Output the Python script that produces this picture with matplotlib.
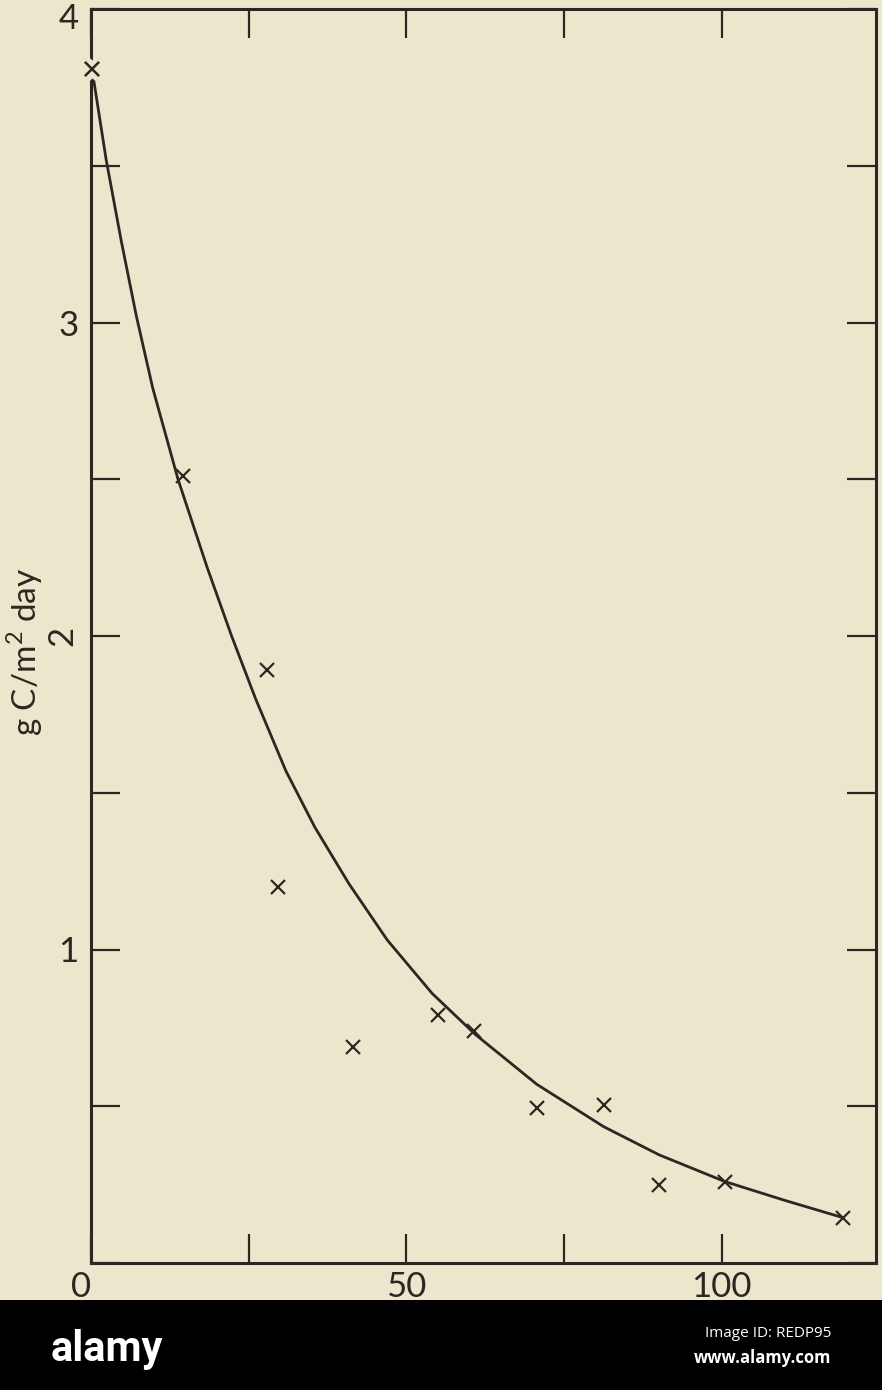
import matplotlib
matplotlib.use("Agg")
import matplotlib.pyplot as plt
import matplotlib.patheffects as pe

# values
depth_obs = [0.1, 14.6, 27.9, 29.7, 41.5, 55.0, 60.8, 70.7, 81.3, 90.1, 100.5, 119.2]
prod_obs = [3.81, 2.51, 1.89, 1.20, 0.69, 0.79, 0.74, 0.495, 0.505, 0.25, 0.258, 0.145]

# hand-drawn fitted curve, traced point by point
depth_curve = [0.3, 2.4, 4.8, 7.2, 9.8, 13.8, 18.4, 22.3, 26.1, 30.9, 35.5,
               40.9, 47.0, 54.1, 60.9, 70.7, 81.3, 90.1, 100.5, 110.0, 119.2]
prod_curve = [3.79, 3.52, 3.26, 3.02, 2.79, 2.50, 2.22, 2.00, 1.80, 1.57, 1.39,
              1.21, 1.03, 0.86, 0.73, 0.57, 0.435, 0.345, 0.26, 0.20, 0.145]

xticks = [0, 25, 50, 75, 100]
xtick_labels = ["0", "", "50", "", "100"]
yticks = [0, 0.5, 1, 1.5, 2, 2.5, 3, 3.5, 4]
ytick_labels = ["", "", "1", "", "2", "", "3", "", ""]
ylabel = "g C/m$^2$ day"

paper = "#ece6cd"
ink = "#2b2822"

plt.rcParams["font.family"] = ["Lato", "DejaVu Sans"]
plt.rcParams["mathtext.fontset"] = "custom"
plt.rcParams["mathtext.rm"] = "Lato"

fig = plt.figure(figsize=(8.82, 13.90), dpi=100, facecolor=paper)
ax = fig.add_axes([91 / 882, 127 / 1390, 785 / 882, 1254 / 1390])
ax.set_facecolor(paper)

ax.plot(depth_curve, prod_curve, color=ink, lw=2.0, solid_capstyle="round",
        solid_joinstyle="round", zorder=3)
ax.plot(depth_obs[1:], prod_obs[1:], linestyle="none", marker="x", ms=10, mew=1.6,
        color=ink, zorder=4)
# first cross sits on the axis, which is broken around it
ax.plot(depth_obs[:1], prod_obs[:1], linestyle="none", marker="x", ms=10, mew=1.6,
        color=ink, zorder=5, clip_on=False,
        path_effects=[pe.withStroke(linewidth=9, foreground=paper), pe.Normal()])

ax.set_xlim(0, 124.5)
ax.set_ylim(0, 4.0)

for sp in ax.spines.values():
    sp.set_linewidth(2.2)
    sp.set_color(ink)

ax.set_xticks(xticks)
ax.set_xticklabels(xtick_labels)
ax.set_yticks(yticks)
ax.set_yticklabels(ytick_labels)
ax.tick_params(direction="in", length=21, width=1.6, color=ink,
               top=True, right=True, labelsize=25, labelcolor=ink)
ax.tick_params(axis="x", pad=6)
ax.tick_params(axis="y", pad=9)
ax.get_xticklabels()[0].set_ha("right")
ax.get_yticklabels()[4].set_rotation(90)
ax.get_yticklabels()[4].set_va("center")

# top label "4" sits a little below the top edge
ax.annotate("4", xy=(0, 4.0), xytext=(-9, -7), textcoords="offset points",
            ha="right", va="center", fontsize=25, color=ink)

ax.set_ylabel(ylabel, fontsize=24, color=ink)
ax.yaxis.set_label_coords(-0.058, 0.487)

# stock-photo footer strip
band = fig.add_axes([0, 0, 1, 90 / 1390])
band.set_facecolor("black")
band.set_xticks([])
band.set_yticks([])
for sp in band.spines.values():
    sp.set_visible(False)
band.text(51 / 882, 0.45, "alamy", transform=band.transAxes, color="white",
          fontsize=30, fontweight="bold", fontstretch="condensed",
          family=["Roboto", "DejaVu Sans"], ha="left", va="center")
band.text(831 / 882, 0.63, "Image ID: REDP95", transform=band.transAxes, color="white",
          fontsize=11, family=["Open Sans", "DejaVu Sans"], ha="right", va="center")
band.text(831 / 882, 0.36, "www.alamy.com", transform=band.transAxes, color="white",
          fontsize=12, fontweight="bold", family=["Open Sans", "DejaVu Sans"],
          ha="right", va="center")

fig.savefig("out.png", dpi=100, facecolor=paper)
